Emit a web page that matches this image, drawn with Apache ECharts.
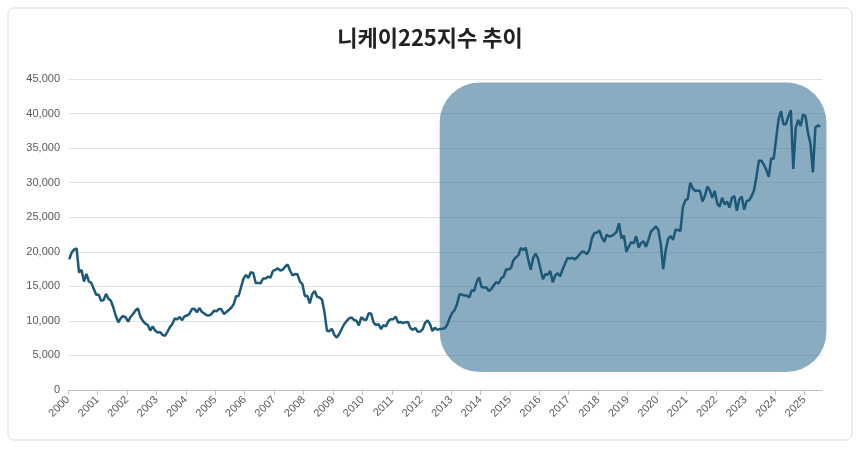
<!DOCTYPE html>
<html><head><meta charset="utf-8">
<script src="https://cdn.jsdelivr.net/npm/echarts@6/dist/echarts.min.js"></script>
<style>html,body{margin:0;padding:0;background:#fff}#c{width:860px;height:450px}</style>
</head><body><div id="c"></div>
<script>
const title = '니케이225지수 추이';
const startYear = 2000;
const yTicks = [0,5000,10000,15000,20000,25000,30000,35000,40000,45000];
// monthly closes (approx.), Jan..Dec per year
const y2000 = [18900,19900,20300,20500,17000,17400,15700,16800,15700,15500,14600,13800];
const y2001 = [13800,12900,13000,13900,13200,12900,11900,10700,9800,10400,10700,10500];
const y2002 = [9900,10600,11000,11500,11800,10600,10000,9600,9400,8600,9200,8600];
const y2003 = [8300,8400,7970,7830,8400,9080,9560,10340,10220,10560,10100,10680];
const y2004 = [10780,11040,11720,11760,11240,11860,11320,11080,10820,10770,11000,11490];
const y2005 = [11390,11740,11670,11000,11280,11580,11900,12400,13570,13600,14870,16110];
const y2006 = [16650,16200,17060,16900,15470,15500,15460,16140,16130,16400,16270,17230];
const y2007 = [17380,17600,17290,17400,17880,18140,17250,16570,16790,16740,15680,15310];
const y2008 = [13590,13600,12530,13850,14340,13480,13380,13070,11260,8580,8510,8860];
const y2009 = [7990,7570,8110,8830,9520,9960,10360,10490,10130,10030,9350,10550];
const y2010 = [10200,10130,11090,11060,9770,9380,9540,8820,9370,9200,9940,10230];
const y2011 = [10240,10620,9760,9850,9690,9820,9830,8950,8700,8990,8430,8450];
const y2012 = [8800,9720,10080,9520,8540,9010,8700,8840,8870,8930,9450,10400];
const y2013 = [11140,11560,12400,13860,13770,13680,13670,13390,14460,14330,15660,16290];
const y2014 = [14910,14840,14830,14300,14630,15160,15620,15420,16170,16410,17460,17450];
const y2015 = [17670,18800,19200,19520,20560,20240,20590,18890,17390,19080,19750,19030];
const y2016 = [17520,16030,16760,16670,17230,15580,16570,16890,16450,17430,18310,19110];
const y2017 = [19040,19120,18910,19200,19650,20030,19930,19650,20360,22010,22720,22760];
const y2018 = [23100,22070,21450,22470,22200,22300,22550,22870,24120,21920,22350,20010];
const y2019 = [20770,21390,21210,22260,20600,21280,21520,20700,21760,22930,23290,23660];
const y2020 = [23200,21140,17500,20190,21880,22290,21710,23140,23190,22980,26430,27440];
const y2021 = [27660,29970,29180,28810,28860,28790,27280,28090,29450,28890,27820,28790];
const y2022 = [27000,26530,27820,26850,27280,26390,27800,28090,25940,27590,27970,26090];
const y2023 = [27330,27450,28040,28860,30890,33190,33170,32620,31860,30860,33490,33460];
const y2024 = [36290,39170,40370,38400,38490,39580,40500,32000,37920,39080,38210,39890];
const y2025 = [39570,37150,35620,31500,37960,38300,38100];
const yearly = [y2000,y2001,y2002,y2003,y2004,y2005,y2006,y2007,y2008,y2009,y2010,y2011,y2012,y2013,y2014,y2015,y2016,y2017,y2018,y2019,y2020,y2021,y2022,y2023,y2024,y2025];
const highlight = {from: 2012.62, to: 2025.75, low: 2600, high: 44500};

const data = [];
yearly.forEach((arr,i)=>arr.forEach((v,m)=>data.push([startYear+i+(m+0.5)/12, v])));

const chart = echarts.init(document.getElementById('c'));
chart.setOption({
  animation:false,
  title:{text:title,left:'center',top:22,textStyle:{fontFamily:'Noto Sans CJK KR',fontSize:22,fontWeight:'bold',color:'#222'}},
  grid:{left:68,right:38,top:79,bottom:60},
  xAxis:{type:'value',min:2000,max:2025.6,interval:1,
    axisLine:{lineStyle:{color:'#bfbfbf'}},axisTick:{show:true,lineStyle:{color:'#bfbfbf'}},
    splitLine:{show:false},
    axisLabel:{rotate:45,color:'#595959',fontSize:11,showMaxLabel:false,formatter:v=>Number.isInteger(v)?String(v):''}},
  yAxis:{type:'value',min:0,max:45000,interval:5000,
    axisLabel:{color:'#595959',fontSize:11,formatter:v=>v.toLocaleString('en-US')},
    splitLine:{lineStyle:{color:'#dde3e8'}},axisLine:{show:false},axisTick:{show:false}},
  series:[{type:'line',data:data,showSymbol:false,z:3,lineStyle:{color:'#1c5878',width:2.5}}]
});
const p1 = chart.convertToPixel({gridIndex:0},[highlight.from,highlight.high]);
const p2 = chart.convertToPixel({gridIndex:0},[highlight.to,highlight.low]);
chart.setOption({graphic:[
  {type:'rect',z:-1,shape:{x:8,y:8,width:844,height:432,r:6},style:{fill:'none',stroke:'#d6dde3',lineWidth:1}},
  {type:'rect',z:1,shape:{x:p1[0],y:p1[1],width:p2[0]-p1[0],height:p2[1]-p1[1],r:40},style:{fill:'rgba(42,104,140,0.55)'}}
]});
</script></body></html>
